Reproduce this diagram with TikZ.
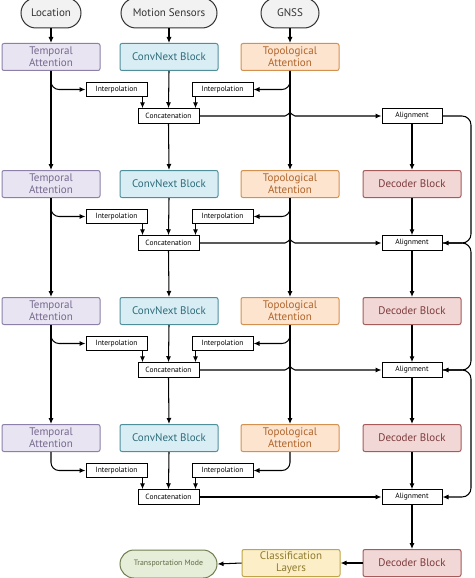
\documentclass[tikz,border=0pt]{standalone}
\usepackage{fontspec}
\setmainfont{PT Sans}
\usetikzlibrary{arrows.meta,calc,shapes.misc}
\definecolor{tempfill}{HTML}{E9E4F1}
\definecolor{tempdraw}{HTML}{8C80A8}
\definecolor{temptext}{HTML}{75698F}
\definecolor{convfill}{HTML}{D9EEF4}
\definecolor{convdraw}{HTML}{4F8F9C}
\definecolor{convtext}{HTML}{2E6C7A}
\definecolor{topofill}{HTML}{FCE4CF}
\definecolor{topodraw}{HTML}{D4904F}
\definecolor{topotext}{HTML}{B0642A}
\definecolor{decfill}{HTML}{F2D7D7}
\definecolor{decdraw}{HTML}{A65A5A}
\definecolor{dectext}{HTML}{7D3B3B}
\definecolor{clsfill}{HTML}{FCEFC7}
\definecolor{clsdraw}{HTML}{BFA548}
\definecolor{clstext}{HTML}{8E7A2E}
\definecolor{trfill}{HTML}{E6EDD8}
\definecolor{trdraw}{HTML}{6F7F50}
\definecolor{trtext}{HTML}{5E6B45}
\definecolor{infill}{HTML}{F2F2F2}
\definecolor{indraw}{HTML}{333333}
\definecolor{intext}{HTML}{333333}
\tikzset{
  base/.style={draw, line width=1pt, rounded corners=2pt, minimum width=98pt,
    minimum height=27pt, inner sep=1pt, align=center,
    font=\fontsize{11}{12}\selectfont},
  tempbox/.style={base, fill=tempfill, draw=tempdraw, text=temptext},
  convbox/.style={base, fill=convfill, draw=convdraw, text=convtext},
  topobox/.style={base, fill=topofill, draw=topodraw, text=topotext},
  decbox/.style={base, fill=decfill, draw=decdraw, text=dectext},
  clsbox/.style={base, fill=clsfill, draw=clsdraw, text=clstext},
  pill/.style={rounded rectangle, draw, line width=1pt, minimum height=30pt,
    inner sep=1pt, font=\fontsize{11}{12}\selectfont},
  inbox/.style={pill, fill=infill, draw=indraw, text=intext},
  trbox/.style={pill, fill=trfill, draw=trdraw, text=trtext,
    font=\fontsize{7.8}{8.5}\selectfont},
  small/.style={draw, fill=white, line width=1pt, minimum width=61pt,
    minimum height=14.5pt, inner sep=1pt, font=\fontsize{7.5}{8}\selectfont},
  arr/.style={-{Latex[length=6pt,width=5pt]}, line width=1.05pt},
}
\begin{document}
\begin{tikzpicture}[x=1pt,y=-1pt]
\useasboundingbox (0,0) rectangle (474,578);
\node[inbox,minimum width=62pt] (loc) at (51,13) {Location};
\node[inbox,minimum width=98pt] (mot) at (169,13) {Motion Sensors};
\node[inbox,minimum width=60pt] (gnss) at (290,13) {GNSS};
\coordinate (rail) at (471,0);
\foreach \k in {1,...,4}{
  \pgfmathsetmacro\y{57+127*(\k-1)}
  \node[tempbox] (t\k) at (51,\y) {Temporal\\Attention};
  \node[convbox] (c\k) at (169,\y) {ConvNext Block};
  \node[topobox] (g\k) at (290,\y) {Topological\\Attention};
  \node[small] (ia\k) at (116.5,\y+32.5) {Interpolation};
  \node[small] (ib\k) at (222.5,\y+32.5) {Interpolation};
  \node[small] (cat\k) at (168.5,\y+59) {Concatenation};
  \node[small,minimum width=60pt] (al\k) at (412,\y+59) {Alignment};
}
\foreach \k in {2,3,4}{
  \pgfmathsetmacro\y{57+127*(\k-1)}
  \node[decbox] (d\k) at (412,\y) {Decoder Block};
}
\node[decbox] (d5) at (412,563) {Decoder Block};
\node[clsbox] (cls) at (291,563) {Classification\\Layers};
\node[trbox,minimum width=99pt,minimum height=28pt] (tr) at (168.5,564) {Transportation Mode};
% inputs
\draw[arr] (loc.south) -- (t1.north);
\draw[arr] (mot.south) -- (c1.north);
\draw[arr] (gnss.south) -- (g1.north);
% per row
\foreach \k in {1,...,4}{
  \draw[arr, rounded corners=8pt] (t\k.south) |- (ia\k.west);
  \draw[arr, rounded corners=8pt] (g\k.south) |- (ib\k.east);
  \draw[arr] (c\k.south) -- (cat\k.north);
  \path ([xshift=5pt]cat\k.north west) coordinate (p\k);
  \path ([xshift=-4pt]cat\k.north east) coordinate (q\k);
  \draw[arr] (ia\k.south -| p\k) -- (p\k);
  \draw[arr] (ib\k.south -| q\k) -- (q\k);
}
\foreach \k/\n in {1/2,2/3,3/4}{
  \draw[arr] (t\k.south) -- (t\n.north);
  \draw[arr] (cat\k.south) -- (c\n.north);
  \draw[arr] (g\k.south) -- (g\n.north);
  \coordinate (h\k) at (g\k.south |- cat\k.east);
  \draw[arr] (cat\k.east) -- ($(h\k)+(-5,0)$)
    .. controls ($(h\k)+(-2,0)$) and ($(h\k)+(-1.5,-3.5)$) .. ($(h\k)+(0,-3.5)$)
    .. controls ($(h\k)+(1.5,-3.5)$) and ($(h\k)+(2,0)$) .. ($(h\k)+(5,0)$)
    -- (al\k.west);
  \draw[arr, rounded corners=9pt] (al\k.east) -- (al\k.east -| rail)
    -- (al\n.east -| rail) -- (al\n.east);
  \draw[arr] (al\k.south) -- (d\n.north);
  \draw[arr] (d\n.south) -- (al\n.north);
}
\draw[arr] (cat4.east) -- (al4.west);
\draw[arr] (al4.south) -- (d5.north);
\draw[arr] (d5.west) -- (cls.east);
\draw[arr] (cls.west) -- (tr.east);
\end{tikzpicture}
\end{document}
